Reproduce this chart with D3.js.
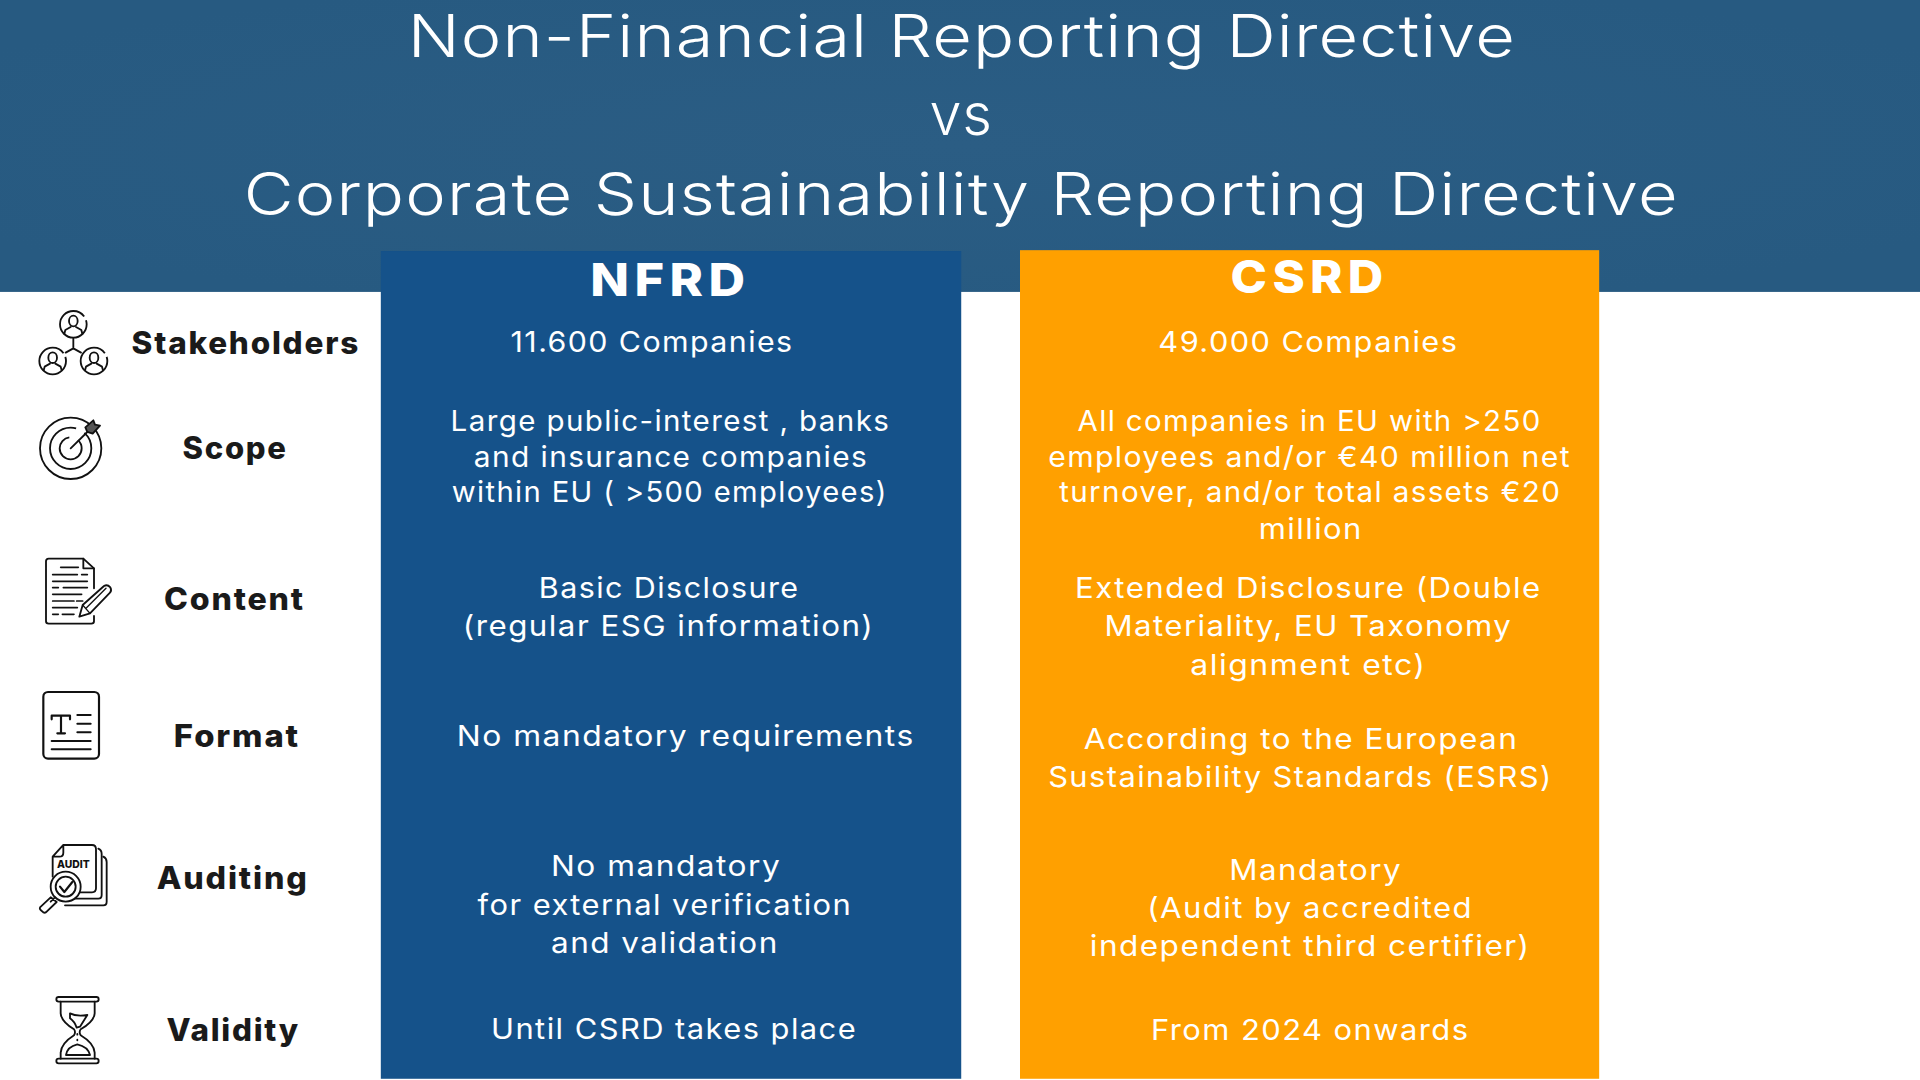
<!DOCTYPE html>
<html lang="en">
<head>
<meta charset="UTF-8">
<title>NFRD vs CSRD</title>
<script src="https://d3js.org/d3.v7.min.js"></script>
<style>
body { margin: 0; background: #fff; }
svg { display: block; }
text { font-family: Inter, "Open Sans", sans-serif; }
</style>
</head>
<body>
<div id="chart"></div>
<script>
// content
var titleLines = ["Non-Financial Reporting Directive", "vs", "Corporate Sustainability Reporting Directive"];
var rowLabels = ["Stakeholders", "Scope", "Content", "Format", "Auditing", "Validity"];
var columnNames = ["NFRD", "CSRD"];
var nfrdCells = [
  ["11.600 Companies"],
  ["Large public-interest , banks", "and insurance companies", "within EU ( >500 employees)"],
  ["Basic Disclosure", "(regular ESG information)"],
  ["No mandatory requirements"],
  ["No mandatory", "for external verification", "and validation"],
  ["Until CSRD takes place"]
];
var csrdCells = [
  ["49.000 Companies"],
  ["All companies in EU with >250", "employees and/or €40 million net", "turnover, and/or total assets €20", "million"],
  ["Extended Disclosure (Double", "Materiality, EU Taxonomy", "alignment etc)"],
  ["According to the European", "Sustainability Standards (ESRS)"],
  ["Mandatory", "(Audit by accredited", "independent third certifier)"],
  ["From 2024 onwards"]
];

// layout, in units of the 1568 wide picture: [left, right, baseline]
var titleBoxes = [[333, 1238, 46.5], [759, 811, 110], [199, 1371, 175.5]];
var rowBoxes = [[107.5, 294, 289], [149, 235, 374.5], [134, 249, 498], [142, 245, 610], [128, 252, 726], [136, 245, 850]];
var nameBoxes = [[482, 613, 241.7], [1005, 1134, 239.5]];
var panelBoxes = [[311, 785, 205], [833, 1306, 204.3]];
var panelColors = ["#15528a", "#ffa000"];
var nfrdBoxes = [
  [[417, 648, 287.5]],
  [[368, 727, 352], [387, 709, 381], [369, 725, 410]],
  [[440, 653, 488], [378, 714, 519]],
  [[373, 747, 609.5]],
  [[450, 638, 715], [390, 696, 747], [450, 636, 778]],
  [[401, 700, 848.5]]
];
var csrdBoxes = [
  [[946, 1191, 287.5]],
  [[880, 1259, 352], [856, 1283, 381], [865, 1275, 410], [1028, 1113, 440]],
  [[878, 1259, 488], [902, 1235, 519], [972, 1165, 551]],
  [[885, 1240, 612], [856, 1268, 643]],
  [[1004, 1145, 719], [937, 1203, 750], [890, 1250, 781]],
  [[940, 1200, 849.5]]
];

var svg = d3.select("#chart").append("svg")
  .attr("width", 1920)
  .attr("height", 1080)
  .attr("viewBox", "0 0 1568 882");

var grad = svg.append("defs").append("radialGradient").attr("id", "headerFill")
  .attr("cx", "50%").attr("cy", "50%").attr("r", "60%");
grad.append("stop").attr("offset", "0%").attr("stop-color", "#2b5d84");
grad.append("stop").attr("offset", "100%").attr("stop-color", "#275a81");

svg.append("rect").attr("width", 1568).attr("height", 238.4).attr("fill", "url(#headerFill)");

svg.selectAll(".panel").data(panelBoxes).enter().append("rect")
  .attr("class", "panel")
  .attr("x", function(d) { return d[0]; })
  .attr("y", function(d) { return d[2]; })
  .attr("width", function(d) { return d[1] - d[0]; })
  .attr("height", function(d) { return 881 - d[2]; })
  .attr("fill", function(d, i) { return panelColors[i]; });

// every line is fitted to its width in the picture, the glyphs get stretched
// because the original face is wider than anything installed
function drawLines(strings, boxes, size, weight, color, spacing) {
  svg.append("g").selectAll("text")
    .data(strings.map(function(s, i) { return {s: s, b: boxes[i]}; }))
    .enter().append("text")
    .attr("x", function(d) { return d.b[0]; })
    .attr("y", function(d) { return d.b[2]; })
    .attr("textLength", function(d) { return d.b[1] - d.b[0]; })
    .attr("lengthAdjust", "spacingAndGlyphs")
    .attr("letter-spacing", spacing)
    .attr("font-size", size)
    .attr("font-weight", weight)
    .attr("fill", color)
    .text(function(d) { return d.s; });
}

drawLines(titleLines, titleBoxes, 48, 300, "#fff", 0.8);
drawLines(columnNames, nameBoxes, 37, 800, "#fff", 4);
drawLines(rowLabels, rowBoxes, 25, 800, "#1a1a1a", 1.4);
nfrdCells.forEach(function(lines, i) { drawLines(lines, nfrdBoxes[i], 23.5, 400, "#fff", 1.1); });
csrdCells.forEach(function(lines, i) { drawLines(lines, csrdBoxes[i], 23.5, 400, "#fff", 1.1); });

// icons, drawn in the 3x crop coordinates
var k = 1 / 3.6735;
var iconsA = svg.append("g").attr("transform", "scale(" + k + ") translate(0,840)");
var iconsB = svg.append("g").attr("transform", "scale(" + k + ") translate(0,1980)");

function line(g, d, w) {
  return g.append("path").attr("d", d).attr("fill", "none").attr("stroke", "#111")
    .attr("stroke-width", w || 5.5).attr("stroke-linecap", "round").attr("stroke-linejoin", "round");
}

// stakeholders
[[220, 133], [158, 243], [282, 243]].forEach(function(c) {
  var x = c[0], y = c[1];
  iconsA.append("circle").attr("cx", x).attr("cy", y).attr("r", 40).attr("fill", "none")
    .attr("stroke", "#111").attr("stroke-width", 5.5).attr("stroke-dasharray", "225 12");
  iconsA.append("ellipse").attr("cx", x).attr("cy", y - 10).attr("rx", 13).attr("ry", 16)
    .attr("fill", "none").attr("stroke", "#111").attr("stroke-width", 5.5);
  line(iconsA, "M" + (x - 27) + "," + (y + 28) + "L" + (x - 24) + "," + (y + 17) + "L" + (x - 8) + "," + (y + 8)
    + "M" + (x + 27) + "," + (y + 28) + "L" + (x + 24) + "," + (y + 17) + "L" + (x + 8) + "," + (y + 8));
});
line(iconsA, "M220,175V205M220,205L197,218M220,205L243,218");

// scope
[92, 62, 33].forEach(function(r, i) {
  iconsA.append("circle").attr("cx", 212).attr("cy", 505).attr("r", r).attr("fill", "none")
    .attr("stroke", "#111").attr("stroke-width", 5.5)
    .attr("stroke-dasharray", i ? (2 * Math.PI * r - 28) + " 28" : null)
    .attr("stroke-dashoffset", i ? -(2 * Math.PI * r * 0.86) : null);
});
line(iconsA, "M212,505L262,456");
line(iconsA, "M256,442L280,421L285,434L300,437L278,461L262,456Z").attr("fill", "#555");

// content
line(iconsA, "M282,925V865L250,836H146Q138,836 138,844V1024Q138,1031 146,1031H274Q282,1031 282,1024V1008");
line(iconsA, "M250,836V865H282");
line(iconsA, "M182,862H235M158,884H232M245,884H262M158,904H262M158,923H175M190,923H262M158,943H245M158,963H222M230,963H248M158,983H232M158,1003H175M187,1003H222", 5);
line(iconsA, "M238,1010L248,975L312,918Q322,912 331,922Q336,932 330,938L270,1000Z").attr("fill", "#fff");
line(iconsA, "M248,975L270,1000M258,985L318,925", 4);

// format
iconsB.append("rect").attr("x", 130).attr("y", 96).attr("width", 167).attr("height", 200).attr("rx", 14)
  .attr("fill", "none").attr("stroke", "#111").attr("stroke-width", 6.5);
line(iconsB, "M155,178V167H210V178M183,167V220M172,220H195", 6.5);
line(iconsB, "M232,165H272M232,191H272M232,217H272M155,243H272M155,268H272", 6);

// auditing
line(iconsB, "M295,566Q305,570 305,582V705Q305,716 295,716H205");
line(iconsB, "M310,590Q320,595 320,606V725Q320,736 310,736H195");
line(iconsB, "M158,590L190,555H276Q288,555 288,568V685Q288,697 276,697H240M158,590V650M158,590H178Q190,590 190,578V555");
iconsB.append("text").attr("x", 171).attr("y", 624).attr("font-size", 33).attr("font-weight", 800)
  .attr("textLength", 98).attr("lengthAdjust", "spacingAndGlyphs").attr("fill", "#111").text("AUDIT");
iconsB.append("circle").attr("cx", 197).attr("cy", 680).attr("r", 45).attr("fill", "#fff").attr("stroke", "#111").attr("stroke-width", 5.5);
iconsB.append("circle").attr("cx", 197).attr("cy", 680).attr("r", 30).attr("fill", "none").attr("stroke", "#111").attr("stroke-width", 5.5);
line(iconsB, "M180,680L193,696L217,666", 6.5);
line(iconsB, "M165,712L152,725M152,712L120,742Q118,746 122,750L130,757Q136,760 140,755L170,726Z");

// validity
iconsB.append("rect").attr("x", 169).attr("y", 1011).attr("width", 127).attr("height", 14).attr("rx", 7)
  .attr("fill", "none").attr("stroke", "#111").attr("stroke-width", 5.5);
iconsB.append("rect").attr("x", 169).attr("y", 1196).attr("width", 127).attr("height", 14).attr("rx", 7)
  .attr("fill", "none").attr("stroke", "#111").attr("stroke-width", 5.5);
line(iconsB, "M182,1025V1060Q184,1085 222,1108Q228,1116 222,1126Q184,1150 182,1178V1196");
line(iconsB, "M284,1025V1060Q282,1085 242,1108Q236,1116 242,1126Q282,1150 284,1178V1196");
line(iconsB, "M210,1060Q228,1070 262,1065L240,1100L230,1103Q224,1085 210,1075Z");
line(iconsB, "M198,1185Q202,1160 232,1153Q264,1160 270,1185Z");
line(iconsB, "M232,1122V1124M232,1139V1141", 5.5);
</script>
</body>
</html>
